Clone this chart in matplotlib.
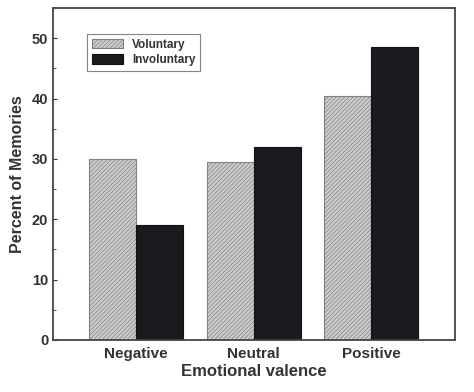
import matplotlib
matplotlib.use("Agg")
import matplotlib.pyplot as plt
import numpy as np

categories = ["Negative", "Neutral", "Positive"]
voluntary = [30.0, 29.4, 40.4]
involuntary = [19.0, 32.0, 48.5]
series_names = ["Voluntary", "Involuntary"]

plt.rcParams['font.family'] = ['Liberation Sans', 'DejaVu Sans']
plt.rcParams['hatch.color'] = '#a8a8a8'
plt.rcParams['hatch.linewidth'] = 0.5

fig = plt.figure(figsize=(4.74, 3.92), dpi=100)
ax = fig.add_axes([0.112, 0.1327, 0.848, 0.847])

x = np.arange(len(categories))
w = 0.4
tc = '#333333'
ax.bar(x - w/2, voluntary, w, color='#cdcdcd', edgecolor='#808080', linewidth=0.8,
       hatch='////////', label=series_names[0])
ax.bar(x + w/2, involuntary, w, color='#1c1a1f', edgecolor='#111111', linewidth=0.8,
       label=series_names[1])

ax.set_xlim(-0.706, 2.715)
ax.set_ylim(0, 55)
ax.set_yticks([0, 10, 20, 30, 40, 50])
ax.set_yticks([5, 15, 25, 35, 45], minor=True)
ax.set_xticks(x)
ax.set_xticklabels(categories)
ax.tick_params(axis='y', which='both', direction='in', colors=tc, labelsize=10.5)
ax.tick_params(axis='y', which='major', length=3)
ax.tick_params(axis='y', which='minor', length=2)
ax.tick_params(axis='x', length=0, labelsize=11, colors=tc, pad=5)
for lab in ax.get_xticklabels() + ax.get_yticklabels():
    lab.set_fontweight('bold')
for s in ax.spines.values():
    s.set_color('#444444')
    s.set_linewidth(1.3)

ax.set_xlabel("Emotional valence", fontsize=12, fontweight='bold', color=tc, labelpad=2)
ax.set_ylabel("Percent of Memories", fontsize=11.5, fontweight='bold', color=tc, labelpad=5)

leg = ax.legend(loc='upper left', bbox_to_anchor=(0.07, 0.94), fontsize=8.5,
                frameon=True, fancybox=False, edgecolor='#666666',
                handlelength=2.6, handleheight=0.9, borderpad=0.4, labelspacing=0.3)
leg.get_frame().set_linewidth(0.8)
for t in leg.get_texts():
    t.set_fontweight('bold')
    t.set_color(tc)

fig.savefig("out.png", dpi=100)
